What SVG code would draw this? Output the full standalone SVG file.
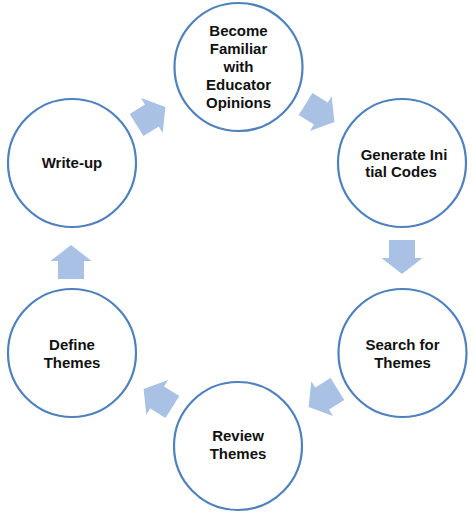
<svg xmlns="http://www.w3.org/2000/svg" width="474" height="517" viewBox="0 0 474 517">
<defs>
<style>
.node circle{fill:#fff;stroke:#4F81BD;stroke-width:2.2}
.node text{font-family:"Liberation Sans",Arial,sans-serif;font-weight:bold;font-size:15px;fill:#111;text-anchor:middle}
.arr{fill:#A9C1E4}
</style>
<path id="ba" d="M -17 -13 L 1 -13 L 1 -20.5 L 17 0 L 1 20.5 L 1 13 L -17 13 Z"/>
</defs>
<rect width="474" height="517" fill="#fff"/>
<g id="connectors">
<use href="#ba" class="arr" transform="translate(151,116) rotate(-32)"/>
<use href="#ba" class="arr" transform="translate(320,113) rotate(32)"/>
<use href="#ba" class="arr" transform="translate(402,257) rotate(90)"/>
<use href="#ba" class="arr" transform="translate(323,398) rotate(148)"/>
<use href="#ba" class="arr" transform="translate(158,398) rotate(-148)"/>
<use href="#ba" class="arr" transform="translate(71,262) rotate(-90)"/>
</g>
<g id="n1" class="node">
<circle cx="238.5" cy="67" r="64"/>
<text x="238.5" y="36">Become</text>
<text x="238.5" y="54">Familiar</text>
<text x="238.5" y="72">with</text>
<text x="238.5" y="90">Educator</text>
<text x="238.5" y="108">Opinions</text>
</g>
<g id="n2" class="node">
<circle cx="402" cy="163" r="64"/>
<text x="404" y="160">Generate Ini</text>
<text x="401" y="177">tial Codes</text>
</g>
<g id="n3" class="node">
<circle cx="402.5" cy="353" r="64"/>
<text x="402.5" y="350">Search for</text>
<text x="402.5" y="368">Themes</text>
</g>
<g id="n4" class="node">
<circle cx="238" cy="446" r="64"/>
<text x="238" y="441">Review</text>
<text x="238" y="459">Themes</text>
</g>
<g id="n5" class="node">
<circle cx="72" cy="353" r="64"/>
<text x="72" y="350">Define</text>
<text x="72" y="368">Themes</text>
</g>
<g id="n6" class="node">
<circle cx="72" cy="163" r="64"/>
<text x="72" y="168">Write-up</text>
</g>
</svg>
